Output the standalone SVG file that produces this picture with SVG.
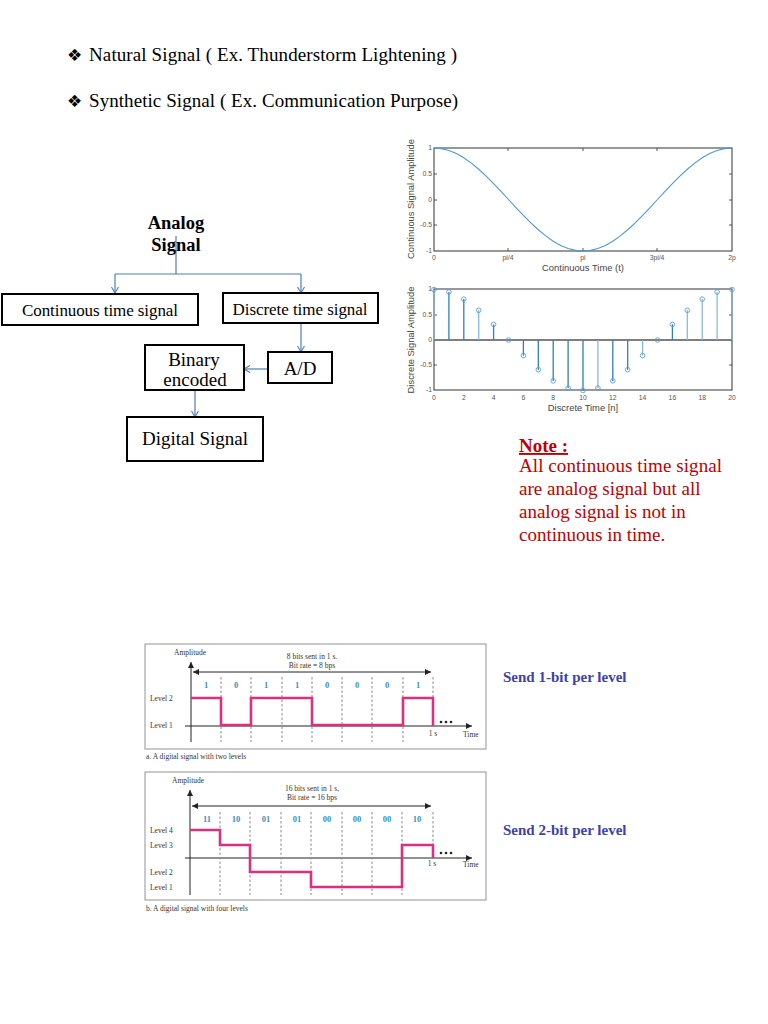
<svg xmlns="http://www.w3.org/2000/svg" width="768" height="1024" viewBox="0 0 768 1024">
<defs>
<style>
.serif{font-family:"Liberation Serif","Times New Roman",serif;fill:#000}
.box{fill:#fff;stroke:#000;stroke-width:2}
.conn{fill:none;stroke:#4a7ebb;stroke-width:1.2}
.note{font-family:"Liberation Serif","Times New Roman",serif;fill:#c00000;font-size:19px}
.send{font-family:"Liberation Serif","Times New Roman",serif;fill:#3f3fae;font-size:15px;font-weight:bold}
.tick{font-family:"Liberation Sans",Arial,sans-serif;fill:#555;font-size:6.8px}
.axlbl{font-family:"Liberation Sans",Arial,sans-serif;fill:#444;font-size:9.4px}
.frame{fill:#fff;stroke:#a6a6a6;stroke-width:1.2}
.small{font-family:"Liberation Serif","Times New Roman",serif;fill:#333;font-size:7.5px}
.bit{font-family:"Liberation Serif","Times New Roman",serif;fill:#3a8fc0;font-size:8.5px;font-weight:bold}
.dash{stroke:#8a8a8a;stroke-width:1;stroke-dasharray:2.5,2}
.ax{stroke:#222;stroke-width:1;fill:none}
.sig{fill:none;stroke:#dc2f7e;stroke-width:2.6}
.stemA{stroke:#2f7fbf;stroke-width:1.3}
.stemB{stroke:#7db6e0;stroke-width:1.2}
.dot{fill:none;stroke:#5aa2d8;stroke-width:0.9}
.bul{font-family:"DejaVu Sans",sans-serif;font-size:17px;fill:#000}
</style>
<marker id="arr" markerWidth="10" markerHeight="10" refX="7" refY="4" orient="auto" markerUnits="userSpaceOnUse">
<path d="M1,0.5 L7,4 L1,7.5" fill="none" stroke="#4a7ebb" stroke-width="1.1"/>
</marker>
<marker id="tri" markerWidth="8" markerHeight="8" refX="6" refY="3" orient="auto" markerUnits="userSpaceOnUse">
<path d="M0,0 L6,3 L0,6 Z" fill="#222"/>
</marker>
<marker id="tri2" markerWidth="8" markerHeight="8" refX="0" refY="3" orient="auto" markerUnits="userSpaceOnUse">
<path d="M6,0 L0,3 L6,6 Z" fill="#222"/>
</marker>
</defs>
<rect width="768" height="1024" fill="#fff"/>

<!-- Bullets -->
<g id="bullets">
<text class="bul" x="67" y="61">❖</text>
<text class="serif" x="89" y="61" font-size="19" textLength="368">Natural Signal ( Ex. Thunderstorm Lightening )</text>
<text class="bul" x="67" y="107">❖</text>
<text class="serif" x="89" y="107" font-size="19" textLength="369">Synthetic Signal ( Ex. Communication Purpose)</text>
</g>

<!-- Connectors -->
<g id="connectors">
<line class="conn" x1="176" y1="236" x2="176" y2="274"/>
<line class="conn" x1="115" y1="274" x2="301" y2="274"/>
<line class="conn" x1="115" y1="274" x2="115" y2="293" marker-end="url(#arr)"/>
<line class="conn" x1="301" y1="274" x2="301" y2="293" marker-end="url(#arr)"/>
<line class="conn" x1="301" y1="324" x2="301" y2="352" marker-end="url(#arr)"/>
<line class="conn" x1="268" y1="369" x2="244" y2="369" marker-end="url(#arr)"/>
<line class="conn" x1="195" y1="390" x2="195" y2="417" marker-end="url(#arr)"/>
</g>

<g id="analog">
<text class="serif" x="176" y="229" font-size="18.5" font-weight="bold" text-anchor="middle">Analog</text>
<text class="serif" x="176" y="251" font-size="18.5" font-weight="bold" text-anchor="middle">Signal</text>
</g>
<g id="continuous">
<rect class="box" x="2" y="294" width="196" height="31"/>
<text class="serif" x="100" y="316" font-size="17" text-anchor="middle" textLength="156" fill="#222">Continuous time signal</text>
</g>
<g id="discrete">
<rect class="box" x="223" y="293" width="155" height="30"/>
<text class="serif" x="300" y="315" font-size="17" text-anchor="middle" textLength="135" fill="#222">Discrete time signal</text>
</g>
<g id="ad">
<rect class="box" x="268" y="352" width="64" height="31"/>
<text class="serif" x="300" y="375" font-size="19" text-anchor="middle">A/D</text>
</g>
<g id="binary">
<rect class="box" x="145" y="345" width="99" height="45"/>
<text class="serif" x="194" y="366" font-size="19" text-anchor="middle">Binary</text>
<text class="serif" x="195" y="386" font-size="19" text-anchor="middle">encoded</text>
</g>
<g id="digital">
<rect class="box" x="127" y="417" width="136" height="44"/>
<text class="serif" x="195" y="445" font-size="19" text-anchor="middle">Digital Signal</text>
</g>

<!-- Continuous plot -->
<g id="plot-continuous">
<rect x="434" y="148" width="298" height="103" fill="#fff" stroke="#333" stroke-width="1"/>
<g stroke="#333" stroke-width="0.8">
<line x1="434" y1="174" x2="437" y2="174"/><line x1="434" y1="200" x2="437" y2="200"/><line x1="434" y1="225" x2="437" y2="225"/>
<line x1="732" y1="174" x2="729" y2="174"/><line x1="732" y1="200" x2="729" y2="200"/><line x1="732" y1="225" x2="729" y2="225"/>
<line x1="508" y1="251" x2="508" y2="248"/><line x1="583" y1="251" x2="583" y2="248"/><line x1="657" y1="251" x2="657" y2="248"/>
<line x1="508" y1="148" x2="508" y2="151"/><line x1="583" y1="148" x2="583" y2="151"/><line x1="657" y1="148" x2="657" y2="151"/>
</g>
<polyline fill="none" stroke="#4a9ad4" stroke-width="1.1" points="434,148 441.45,148.63 448.9,150.52 456.35,153.61 463.8,157.84 471.25,163.08 478.7,169.23 486.15,176.12 493.6,183.59 501.05,191.45 508.5,199.5 515.95,207.55 523.4,215.41 530.85,222.88 538.3,229.77 545.75,235.92 553.2,241.16 560.65,245.39 568.1,248.48 575.55,250.37 583,251 590.45,250.37 597.9,248.48 605.35,245.39 612.8,241.16 620.25,235.92 627.7,229.77 635.15,222.88 642.6,215.41 650.05,207.55 657.5,199.5 664.95,191.45 672.4,183.59 679.85,176.12 687.3,169.23 694.75,163.08 702.2,157.84 709.65,153.61 717.1,150.52 724.55,148.63 732,148"/>
<g class="tick" text-anchor="end">
<text x="432" y="150">1</text><text x="432" y="176">0.5</text><text x="432" y="202">0</text><text x="432" y="227">-0.5</text><text x="432" y="253">-1</text>
</g>
<g class="tick" text-anchor="middle">
<text x="434" y="260">0</text><text x="508" y="260">pi/4</text><text x="583" y="260">pi</text><text x="657" y="260">3pi/4</text><text x="732" y="260">2p</text>
</g>
<text class="axlbl" x="583" y="271" text-anchor="middle">Continuous Time (t)</text>
<text class="axlbl" transform="translate(414,199) rotate(-90)" text-anchor="middle" font-size="9">Continuous Signal Amplitude</text>
</g>

<!-- Discrete plot -->
<g id="plot-discrete">
<rect x="434" y="289" width="298" height="101" fill="#fff" stroke="#333" stroke-width="1"/>
<g stroke="#333" stroke-width="0.8">
<line x1="434" y1="315" x2="437" y2="315"/><line x1="434" y1="365" x2="437" y2="365"/>
<line x1="732" y1="315" x2="729" y2="315"/><line x1="732" y1="365" x2="729" y2="365"/>
</g>
<line x1="434" y1="340" x2="732" y2="340" stroke="#555" stroke-width="1.4"/>
<g>
<line class="stemB" x1="434" y1="340" x2="434" y2="289.5"/>
<line class="stemA" x1="448.9" y1="340" x2="448.9" y2="292"/>
<line class="stemA" x1="463.8" y1="340" x2="463.8" y2="299.1"/>
<line class="stemB" x1="478.7" y1="340" x2="478.7" y2="310.3"/>
<line class="stemA" x1="493.6" y1="340" x2="493.6" y2="324.4"/>
<line class="stemA" x1="523.4" y1="340" x2="523.4" y2="355.6"/>
<line class="stemA" x1="538.3" y1="340" x2="538.3" y2="369.7"/>
<line class="stemA" x1="553.2" y1="340" x2="553.2" y2="380.9"/>
<line class="stemA" x1="568.1" y1="340" x2="568.1" y2="388"/>
<line class="stemA" x1="583" y1="340" x2="583" y2="390.5"/>
<line class="stemB" x1="597.9" y1="340" x2="597.9" y2="388"/>
<line class="stemA" x1="612.8" y1="340" x2="612.8" y2="380.9"/>
<line class="stemA" x1="627.7" y1="340" x2="627.7" y2="369.7"/>
<line class="stemB" x1="642.6" y1="340" x2="642.6" y2="355.6"/>
<line class="stemA" x1="672.4" y1="340" x2="672.4" y2="324.4"/>
<line class="stemB" x1="687.3" y1="340" x2="687.3" y2="310.3"/>
<line class="stemB" x1="702.2" y1="340" x2="702.2" y2="299.1"/>
<line class="stemB" x1="717.1" y1="340" x2="717.1" y2="292"/>
<line class="stemB" x1="732" y1="340" x2="732" y2="289.5"/>
</g>
<g class="dot">
<circle cx="434" cy="289.5" r="2.3"/><circle cx="448.9" cy="292" r="2.3"/><circle cx="463.8" cy="299.1" r="2.3"/><circle cx="478.7" cy="310.3" r="2.3"/><circle cx="493.6" cy="324.4" r="2.3"/><circle cx="508.5" cy="340" r="2.3"/><circle cx="523.4" cy="355.6" r="2.3"/><circle cx="538.3" cy="369.7" r="2.3"/><circle cx="553.2" cy="380.9" r="2.3"/><circle cx="568.1" cy="388" r="2.3"/><circle cx="583" cy="390.5" r="2.3"/><circle cx="597.9" cy="388" r="2.3"/><circle cx="612.8" cy="380.9" r="2.3"/><circle cx="627.7" cy="369.7" r="2.3"/><circle cx="642.6" cy="355.6" r="2.3"/><circle cx="657.5" cy="340" r="2.3"/><circle cx="672.4" cy="324.4" r="2.3"/><circle cx="687.3" cy="310.3" r="2.3"/><circle cx="702.2" cy="299.1" r="2.3"/><circle cx="717.1" cy="292" r="2.3"/><circle cx="732" cy="289.5" r="2.3"/>
</g>
<g class="tick" text-anchor="end">
<text x="432" y="291">1</text><text x="432" y="317">0.5</text><text x="432" y="342">0</text><text x="432" y="367">-0.5</text><text x="432" y="392">-1</text>
</g>
<g class="tick" text-anchor="middle">
<text x="434" y="400">0</text><text x="463.8" y="400">2</text><text x="493.6" y="400">4</text><text x="523.4" y="400">6</text><text x="553.2" y="400">8</text><text x="583" y="400">10</text><text x="612.8" y="400">12</text><text x="642.6" y="400">14</text><text x="672.4" y="400">16</text><text x="702.2" y="400">18</text><text x="732" y="400">20</text>
</g>
<text class="axlbl" x="583" y="411" text-anchor="middle">Discrete Time [n]</text>
<text class="axlbl" transform="translate(414,340) rotate(-90)" text-anchor="middle" font-size="9">Discrete Signal Amplitude</text>
</g>

<!-- Note -->
<g id="note">
<text class="note" x="519" y="452" font-weight="bold" text-decoration="underline">Note :</text>
<text class="note" x="519" y="472" textLength="203">All continuous time signal</text>
<text class="note" x="519" y="495">are analog signal but all</text>
<text class="note" x="519" y="518">analog signal is not in</text>
<text class="note" x="519" y="541">continuous in time.</text>
</g>

<!-- Figure a -->
<g id="figure-a">
<rect class="frame" x="145" y="644" width="341" height="105"/>
<text class="small" x="174" y="655">Amplitude</text>
<text class="small" x="312" y="659" text-anchor="middle" font-size="7">8 bits sent in 1 s.</text>
<text class="small" x="312" y="667.5" text-anchor="middle" font-size="7">Bit rate = 8 bps</text>
<line class="ax" x1="193" y1="672" x2="431" y2="672" stroke-width="0.8" marker-start="url(#tri2)" marker-end="url(#tri)"/>
<line class="ax" x1="191" y1="742" x2="191" y2="662" marker-end="url(#tri)"/>
<line class="ax" x1="185" y1="726" x2="472" y2="726" marker-end="url(#tri)"/>
<g class="dash">
<line x1="221" y1="677" x2="221" y2="742"/><line x1="251" y1="677" x2="251" y2="742"/><line x1="282" y1="677" x2="282" y2="742"/><line x1="312" y1="677" x2="312" y2="742"/><line x1="342" y1="677" x2="342" y2="742"/><line x1="372" y1="677" x2="372" y2="742"/><line x1="403" y1="677" x2="403" y2="742"/><line x1="433" y1="677" x2="433" y2="726"/>
</g>
<g class="bit" text-anchor="middle">
<text x="206" y="688">1</text><text x="236" y="688">0</text><text x="266" y="688">1</text><text x="297" y="688">1</text><text x="327" y="688">0</text><text x="357" y="688">0</text><text x="387" y="688">0</text><text x="418" y="688">1</text>
</g>
<text class="small" x="150" y="701">Level 2</text>
<text class="small" x="150" y="728">Level 1</text>
<path class="sig" d="M191,698 H221 V725 H251 V698 H312 V725 H403 V698 H433 V726"/>
<g fill="#222"><circle cx="441" cy="722" r="1.3"/><circle cx="446" cy="722" r="1.3"/><circle cx="451" cy="722" r="1.3"/></g>
<text class="small" x="433" y="736" text-anchor="middle" font-size="6.5">1 s</text>
<text class="small" x="463" y="737">Time</text>
<text class="small" x="146" y="759" font-size="7">a. A digital signal with two levels</text>
</g>

<!-- Figure b -->
<g id="figure-b">
<rect class="frame" x="145" y="772" width="341" height="128"/>
<text class="small" x="172" y="783">Amplitude</text>
<text class="small" x="312" y="791" text-anchor="middle" font-size="7">16 bits sent in 1 s,</text>
<text class="small" x="312" y="800" text-anchor="middle" font-size="7">Bit rate = 16 bps</text>
<line class="ax" x1="192" y1="806" x2="431" y2="806" stroke-width="0.8" marker-start="url(#tri2)" marker-end="url(#tri)"/>
<line class="ax" x1="190" y1="895" x2="190" y2="790" marker-end="url(#tri)"/>
<line class="ax" x1="185" y1="858" x2="472" y2="858" marker-end="url(#tri)"/>
<g class="dash">
<line x1="220" y1="812" x2="220" y2="895"/><line x1="250" y1="812" x2="250" y2="895"/><line x1="281" y1="812" x2="281" y2="895"/><line x1="311" y1="812" x2="311" y2="895"/><line x1="342" y1="812" x2="342" y2="895"/><line x1="372" y1="812" x2="372" y2="895"/><line x1="402" y1="812" x2="402" y2="895"/><line x1="433" y1="812" x2="433" y2="858"/>
</g>
<g class="bit" text-anchor="middle">
<text x="207" y="822">11</text><text x="236" y="822">10</text><text x="266" y="822">01</text><text x="297" y="822">01</text><text x="327" y="822">00</text><text x="357" y="822">00</text><text x="387" y="822">00</text><text x="417" y="822">10</text>
</g>
<text class="small" x="150" y="833">Level 4</text>
<text class="small" x="150" y="848">Level 3</text>
<text class="small" x="150" y="875">Level 2</text>
<text class="small" x="150" y="890">Level 1</text>
<path class="sig" d="M190,830 H220 V845 H250 V872 H311 V887 H402 V845 H433 V858"/>
<g fill="#222"><circle cx="441" cy="853" r="1.3"/><circle cx="446" cy="853" r="1.3"/><circle cx="451" cy="853" r="1.3"/></g>
<text class="small" x="432" y="866" text-anchor="middle" font-size="6.5">1 s</text>
<text class="small" x="463" y="867">Time</text>
<text class="small" x="146" y="911" font-size="7">b. A digital signal with four levels</text>
</g>

<g id="send-labels">
<text class="send" x="503" y="682">Send 1-bit per level</text>
<text class="send" x="503" y="835">Send 2-bit per level</text>
</g>
</svg>
